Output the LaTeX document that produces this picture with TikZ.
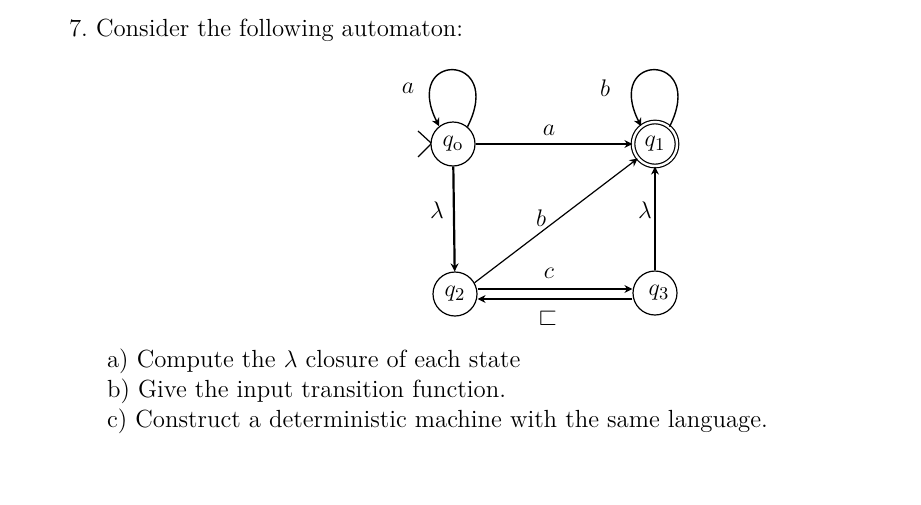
\documentclass[tikz,border=0pt]{standalone}
\usepackage{amssymb}
\usetikzlibrary{arrows.meta}
\begin{document}
\begin{tikzpicture}[x=0.5pt,y=-0.5pt,font=\fontsize{12.4}{15}\selectfont,
  st/.style={circle,draw,fill=white,line width=0.6pt,minimum size=22pt,inner sep=0pt},
  tr/.style={line width=1.1pt,-{Stealth[length=4pt,width=4pt]}},
  lab/.style={inner sep=1pt}]
\useasboundingbox (0,0) rectangle (921,504);
\node[anchor=west] (title) at (62,30) {7.~Consider the following automaton:};
\coordinate (c1) at (418,131);
\coordinate (c2) at (442,153);
\coordinate (c3) at (418,157);
\coordinate (c4) at (442,133);
\draw[line width=0.6pt] (c1) -- (c2) (c3) -- (c4);
\node[st] (q0) at (453,144) {$q_{\mathrm{o}}$};
\node[st,double,double distance=1.2pt] (q1) at (655,144) {$q_1$};
\node[st] (q2) at (455,294) {\raisebox{-2pt}{$q_2$}};
\node[st] (q3) at (655,293) {\raisebox{-3pt}{\hspace{4pt}$q_3$}};
\draw[tr,line width=0.7pt] (q0.50) .. controls +(38,-75) and +(-38,-75) .. (q0.128);
\draw[tr,line width=0.7pt] (q1.50) .. controls +(38,-75) and +(-38,-75) .. (q1.128);
\draw[tr] (q0) -- (q1);
\draw[tr] (q0) -- (q2);
\draw[tr,line width=0.6pt] (q2.30) -- (q1.220);
\draw[tr] (q3) -- (q1);
\draw[tr] (q2.east |- 0,289) -- (q3.west |- 0,289);
\draw[tr] (q3.west |- 0,299) -- (q2.east |- 0,299);
\node[lab] (la0) at (408,88) {$a$};
\node[lab] (lb1) at (605,88) {$b$};
\node[lab] (la) at (549,130) {$a$};
\node[lab] (ll1) at (437,210) {$\lambda$};
\node[lab] (lb) at (541,218) {$b$};
\node[lab] (ll2) at (645,210) {$\lambda$};
\node[lab] (lc) at (549,273) {$c$};
\node[lab] (ls) at (548,318) {$\sqsubset$};
\node[anchor=west] (ta) at (100,361) {a)~Compute the $\lambda$ closure of each state};
\node[anchor=west] (tb) at (100,391) {b)~Give the input transition function.};
\node[anchor=west] (tc) at (100,421) {c)~Construct a deterministic machine with the same language.};
\end{tikzpicture}
\end{document}
